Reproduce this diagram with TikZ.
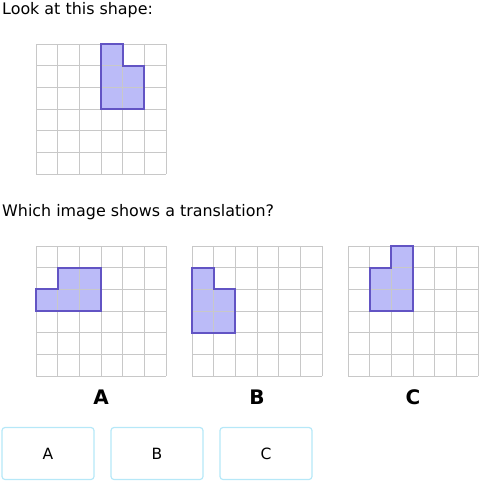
\documentclass[tikz,border=0pt]{standalone}
\usepackage{fontspec}
\setmainfont{DejaVu Sans}
\usetikzlibrary{positioning}

\definecolor{gridgray}{RGB}{200,200,200}
\definecolor{shapefill}{RGB}{187,187,248}
\definecolor{shapeline}{RGB}{98,84,196}
\definecolor{btnline}{RGB}{182,232,248}

\begin{document}
\begin{tikzpicture}[x=1pt,y=-1pt,
    gridline/.style={draw=gridgray, line width=0.9pt},
    piece/.style={draw=shapeline, line width=1.7pt, line join=miter},
    %piece fill is drawn below the grid
    question/.style={anchor=base west, inner sep=0pt, font=\fontsize{15.9}{18}\selectfont},
    choice/.style={inner sep=0pt, font=\fontsize{20}{24}\selectfont\bfseries},
    button/.style={draw=btnline, line width=1.2pt, rounded corners=3pt, minimum width=92pt, minimum height=52pt, font=\fontsize{15.5}{18}\selectfont}
    ]
\useasboundingbox (0,0) rectangle (480,482);

\node[question] (look) at (2,14) {Look at this shape:};
\node[question] (which) at (2,216) {Which image shows a translation?};

% filled pieces, in cells of each grid
\begin{scope}[shift={(36,44)}, x=21.667pt, y=-21.667pt]
  \fill[shapefill] (3,0) -- (4,0) -- (4,1) -- (5,1) -- (5,3) -- (3,3) -- cycle;
\end{scope}
\begin{scope}[shift={(36,246)}, x=21.667pt, y=-21.667pt]
  \fill[shapefill] (1,1) -- (3,1) -- (3,3) -- (0,3) -- (0,2) -- (1,2) -- cycle;
\end{scope}
\begin{scope}[shift={(192,246)}, x=21.667pt, y=-21.667pt]
  \fill[shapefill] (0,1) -- (1,1) -- (1,2) -- (2,2) -- (2,4) -- (0,4) -- cycle;
\end{scope}
\begin{scope}[shift={(348,246)}, x=21.667pt, y=-21.667pt]
  \fill[shapefill] (2,0) -- (3,0) -- (3,3) -- (1,3) -- (1,1) -- (2,1) -- cycle;
\end{scope}

% the four 6x6 grids
\foreach \gx/\gy in {36/44, 36/246, 192/246, 348/246} {
  \foreach \i in {0,...,6} {
    \draw[gridline] (\gx+\i*21.667, \gy) -- ++(0,130);
    \draw[gridline] (\gx, \gy+\i*21.667) -- ++(130,0);
  }
}

% outlines
\begin{scope}[shift={(36,44)}, x=21.667pt, y=-21.667pt]
  \draw[piece] (3,0) -- (4,0) -- (4,1) -- (5,1) -- (5,3) -- (3,3) -- cycle;
\end{scope}
\begin{scope}[shift={(36,246)}, x=21.667pt, y=-21.667pt]
  \draw[piece] (1,1) -- (3,1) -- (3,3) -- (0,3) -- (0,2) -- (1,2) -- cycle;
\end{scope}
\begin{scope}[shift={(192,246)}, x=21.667pt, y=-21.667pt]
  \draw[piece] (0,1) -- (1,1) -- (1,2) -- (2,2) -- (2,4) -- (0,4) -- cycle;
\end{scope}
\begin{scope}[shift={(348,246)}, x=21.667pt, y=-21.667pt]
  \draw[piece] (2,0) -- (3,0) -- (3,3) -- (1,3) -- (1,1) -- (2,1) -- cycle;
\end{scope}

\node[choice] (labA) at (101,397) {A};
\node[choice] (labB) at (257,397) {B};
\node[choice] (labC) at (413,397) {C};

\node[button] (btnA) at (48,453.5) {A};
\node[button, right=15.8pt of btnA] (btnB) {B};
\node[button, right=15.8pt of btnB] (btnC) {C};

\end{tikzpicture}
\end{document}
